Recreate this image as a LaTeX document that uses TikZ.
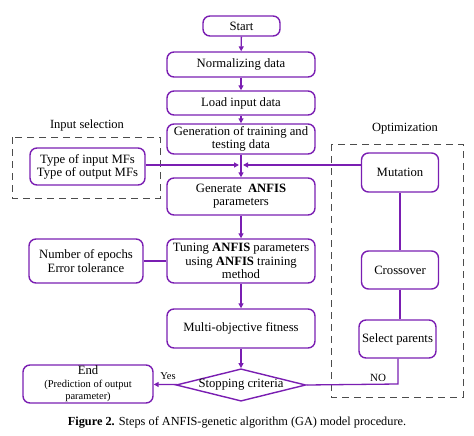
\documentclass[tikz,border=0pt]{standalone}
\usepackage{fontspec}
\setmainfont{Liberation Serif}
\usetikzlibrary{shapes.geometric,arrows.meta}
\definecolor{pur}{RGB}{122,30,178}
\begin{document}
\begin{tikzpicture}[x=1pt,y=-1pt,
  box/.style={draw=pur,line width=1.4pt,rounded corners=7pt,align=center,font=\fontsize{12.7}{13.2}\selectfont,inner sep=0pt},
  grp/.style={draw=black!70,line width=0.9pt,dash pattern=on 7pt off 5pt},
  conn/.style={draw=pur,line width=1.3pt},
  arr/.style={conn,-{Triangle[length=5pt,width=5pt]}},
  lbl/.style={font=\fontsize{12.5}{13}\selectfont,inner sep=0pt}]
\useasboundingbox (0,0) rectangle (474,436);
% groups
\draw[grp] (12,137) rectangle (160,198);
\node[lbl] (insel) at (87,125) {Input selection};
\draw[grp] (331,144) rectangle (463,397);
\node[lbl] (optl) at (405,129) {Optimization};
% main column
\node[box,minimum width=77pt,minimum height=20pt] (start) at (241.5,26) {Start};
\node[box,minimum width=148pt,minimum height=25pt] (norm) at (241,64.5) {Normalizing data};
\node[box,minimum width=148pt,minimum height=24pt] (load) at (241,103) {Load input data};
\node[box,minimum width=148pt,minimum height=30pt] (gen) at (241,139) {Generation of training and\\testing data};
\node[box,minimum width=148pt,minimum height=37pt] (ganfis) at (241,196.5) {Generate\ \ \textbf{ANFIS}\\parameters};
\node[box,minimum width=148pt,minimum height=44pt,font=\fontsize{12.7}{13.8}\selectfont] (tune) at (241,261) {Tuning \textbf{ANFIS} parameters\\using \textbf{ANFIS} training\\method};
\node[box,minimum width=148pt,minimum height=39pt] (multi) at (241,328.5) {Multi-objective fitness};
\node[draw=pur,line width=1.4pt,diamond,aspect=4,minimum width=128pt,minimum height=32pt,inner sep=0pt,font=\fontsize{12.7}{13}\selectfont] (stop) at (241,385) {Stopping criteria};
% side boxes
\node[box,minimum width=115pt,minimum height=37pt] (mfs) at (87.5,166.5) {Type of input MFs\\Type of output MFs};
\node[box,minimum width=114pt,minimum height=44pt,font=\fontsize{12.7}{14}\selectfont] (epochs) at (86,261) {Number of epochs\\Error tolerance};
\node[box,minimum width=130pt,minimum height=38pt,font=\fontsize{10.5}{12.5}\selectfont] (endn) at (88,384) {{\fontsize{12.7}{12}\selectfont End}\\(Prediction of output\\parameter)};
\node[box,minimum width=77pt,minimum height=39pt] (mut) at (400,172.5) {Mutation};
\node[box,minimum width=77pt,minimum height=38pt] (cross) at (400,270) {Crossover};
\node[box,minimum width=77pt,minimum height=38pt] (sel) at (397.5,339) {Select parents};
% connectors
\coordinate (j) at (241,165);
\coordinate (jl) at (239,165);
\coordinate (jr) at (243,165);
\coordinate (no) at (398,384);
\draw[arr] (start) -- (norm);
\draw[arr] (norm) -- (load);
\draw[arr] (load) -- (gen);
\draw[conn] (gen) -- (j);
\draw[arr] (j) -- (ganfis);
\draw[arr] (mfs.east |- jl) -- (jl);
\draw[arr] (mut.west |- jr) -- (jr);
\draw[arr] (ganfis) -- (tune);
\draw[conn] (epochs) -- (tune);
\draw[arr] (tune) -- (multi);
\draw[arr] (multi) -- (stop);
\draw[arr] (stop) -- (endn);
\node[lbl,font=\fontsize{10.5}{11}\selectfont] (yes) at (168,376) {Yes};
\draw[conn] (stop.east) -- (no) -- (sel.south -| no);
\node[lbl,font=\fontsize{11}{11}\selectfont] (nol) at (378,378) {NO};
\draw[conn] (cross.south) -- (cross.south |- sel.north);
\draw[conn] (cross) -- (mut);
% caption
\node[lbl,font=\fontsize{12.3}{13}\selectfont] (cap) at (237,423) {\textbf{Figure 2.} Steps of ANFIS-genetic algorithm (GA) model procedure.};
\end{tikzpicture}
\end{document}
